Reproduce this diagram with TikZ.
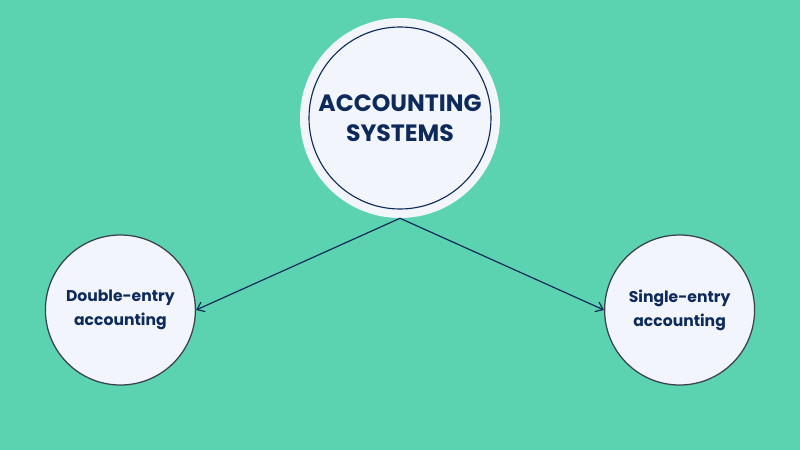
\documentclass[tikz,border=0pt]{standalone}
\usepackage{fontspec}
\setmainfont{Poppins}
\usepackage{tikz}
\usetikzlibrary{arrows.meta,positioning,calc}
\definecolor{bggreen}{HTML}{5CD3B0}
\definecolor{navy}{HTML}{0E2A5A}
\definecolor{paper}{HTML}{F2F6FC}
\definecolor{rim}{HTML}{3A4150}
\tikzset{
  >=Stealth,
  every node/.append style={font=\bfseries, text=navy},
}
\begin{document}
\begin{tikzpicture}[
  ring/.style={circle, fill=paper, minimum size=5cm, inner sep=0pt},
  topic/.style={circle, draw=navy, line width=0.8pt, fill=paper, minimum size=4.55cm, inner sep=0pt, align=center, font=\fontsize{16.8}{21.5}\selectfont\bfseries},
  kind/.style={circle, draw=rim, line width=0.9pt, fill=paper, minimum size=3.75cm, inner sep=0pt, align=center, font=\fontsize{11.1}{17}\selectfont\bfseries},
  arr/.style={-{Straight Barb[length=1.7mm, width=2.6mm]}, draw=navy, line width=0.85pt}
]
% background
\fill[bggreen] (0,0) rectangle (20,11.25);
\useasboundingbox (0,0) rectangle (20,11.25);

% main topic
\node[ring] (hub) at (10,8.3) {};
\node[topic] (sys) at (hub.center) {ACCOUNTING\\SYSTEMS};

% the two kinds
\node[kind] (dbl) at (3.01,3.5) {Double-entry\\accounting};
\node[kind] (sgl) at (16.99,3.5) {Single-entry\\accounting};

% links
\draw[arr] (hub.south) -- (dbl.east);
\draw[arr] (hub.south) -- (sgl.west);
\end{tikzpicture}
\end{document}
